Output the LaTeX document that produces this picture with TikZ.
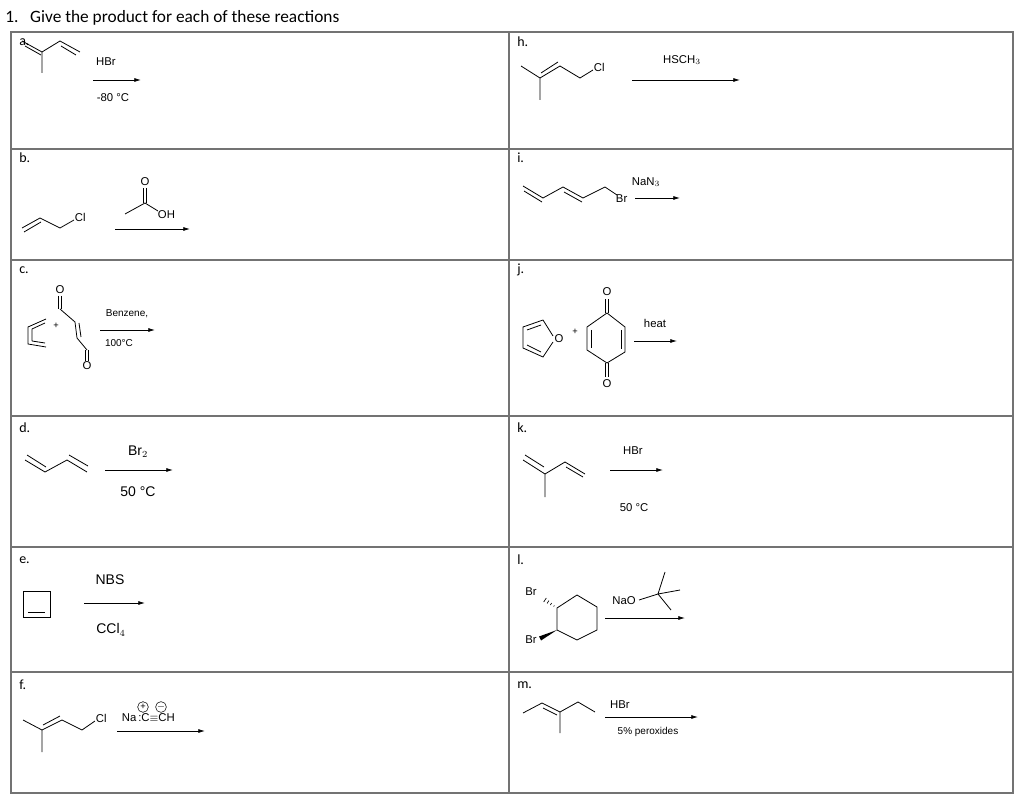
\documentclass[tikz,border=0pt]{standalone}
\usepackage{fontspec}
\setmainfont{Liberation Sans}
\newfontfamily\calfont{Carlito}
\usetikzlibrary{arrows.meta,calc}
\begin{document}
\begin{tikzpicture}[x=0.75pt,y=-0.75pt,
  bond/.style={line width=0.6pt},
  grid/.style={draw=black!55,line width=0.9pt},
  rxn/.style={-{Latex[length=5pt,width=3pt]},line width=0.6pt},
  lab/.style={font=\calfont\fontsize{10.5}{12}\selectfont,anchor=west,inner sep=0},
  rg/.style={font=\fontsize{8.5}{10}\selectfont,inner sep=0},
  rgb/.style={font=\fontsize{10.5}{12}\selectfont,inner sep=0},
  atm/.style={font=\fontsize{8.5}{10}\selectfont,inner sep=0.5pt}]
\useasboundingbox (0,0) rectangle (1024,798);
\fill[white] (0,0) rectangle (1024,798);
\node[font=\calfont\fontsize{13}{15}\selectfont,anchor=west,inner sep=0] (title) at (5,18) {1.\ \ \ Give the product for each of these reactions};
\draw[grid] (11,32) rectangle (1013,793);
\draw[grid] (509,32) -- (509,793);
\foreach \y in {149,260,416,547,672} \draw[grid] (11,\y) -- (1013,\y);
\foreach \l/\y in {a./42,b./158,c./270,d./428,e./560,f./685} \node[lab] at (19,\y) {\l};
\foreach \l/\y in {h./42,i./158,j./270,k./428,l./560,m./685} \node[lab] at (517,\y) {\l};

% a
\draw[bond] (22,41)--(42,52)--(42,73) (42,52)--(60,41)--(80,52);
\draw[bond] (25,46)--(41,55) (61,46)--(76,55);
\coordinate (a1) at (93,80); \coordinate (a2) at (141,80);
\draw[rxn] (a1)--(a2);
\node[rg] (aHBr) at (106,62) {HBr};
\node[rg] (aT) at (113,98) {-80 °C};

% b
\draw[bond] (22,228)--(40,218)--(60,228)--(74,220);
\draw[bond] (24,232)--(41,222);
\node[atm,anchor=west] (bCl) at (74,217) {Cl};
\draw[bond] (125,214)--(145,203)--(158,211);
\draw[bond] (143.5,203)--(143.5,188) (146.5,203)--(146.5,188);
\node[atm] (bO) at (145,182) {O};
\node[atm,anchor=west] (bOH) at (157,215) {OH};
\coordinate (b1) at (115,229); \coordinate (b2) at (190,229);
\draw[rxn] (b1)--(b2);

% c
\draw[bond] (46,319)--(28,327)--(28,344)--(46,347);
\draw[bond] (45,323)--(32,329) (32,329)--(32,341) (32,341)--(45,343);
\node[atm,font=\fontsize{7}{8}\selectfont] (cplus) at (56,326) {+};
\node[atm] (cO1) at (60,290) {O};
\draw[bond] (58.5,296)--(58.5,309) (61.5,296)--(61.5,309);
\draw[bond] (60,309)--(75,322)--(77,338)--(87,350);
\draw[bond] (79,323)--(81,337);
\draw[bond] (85.5,350)--(85.5,361) (88.5,350)--(88.5,361);
\node[atm] (cO2) at (87,366) {O};
\node[atm,font=\fontsize{7.5}{9}\selectfont] (cBz) at (127,314) {Benzene,};
\node[atm,font=\fontsize{7.5}{9}\selectfont] (cT) at (119,343) {100°C};
\coordinate (c1) at (100,330); \coordinate (c2) at (155,330);
\draw[rxn] (c1)--(c2);

% d
\draw[bond] (25,460)--(45,472)--(67,460)--(87,472);
\draw[bond] (27,455)--(46,467) (69,455)--(88,466);
\node[rgb] (dBr) at (138,452) {Br$_2$};
\node[rgb] (dT) at (138,492) {50 °C};
\coordinate (d1) at (105,470); \coordinate (d2) at (173,470);
\draw[rxn] (d1)--(d2);

% e
\draw[bond] (23,591) rectangle (50,617);
\draw[bond] (28,612)--(45,612);
\node[rgb] (eN) at (110,580) {NBS};
\node[rgb] (eC) at (111,630) {CCl$_4$};
\coordinate (e1) at (84,603); \coordinate (e2) at (145,603);
\draw[rxn] (e1)--(e2);

% f
\draw[bond] (23,720)--(42,730)--(42,752) (42,730)--(62,720)--(82,730)--(95,721);
\draw[bond] (43,725)--(60,716);
\node[atm,anchor=west] (fCl) at (95,718) {Cl};
\node[atm,anchor=west] (fNa) at (121,718) {Na\,:C$\equiv$CH};
\node[circle,draw,inner sep=0,minimum size=8pt,font=\fontsize{7}{7}\selectfont] (fp) at (143,707) {+};
\node[circle,draw,inner sep=0,minimum size=8pt,font=\fontsize{7}{7}\selectfont] (fm) at (161,707) {$-$};
\coordinate (f1) at (117,731); \coordinate (f2) at (205,731);
\draw[rxn] (f1)--(f2);

% h
\draw[bond] (521,66)--(540,78)--(540,100) (540,78)--(560,66)--(580,78)--(593,70);
\draw[bond] (541,73)--(558,62);
\node[atm,anchor=west] (hCl) at (593,67) {Cl};
\node[rg] (hR) at (682,60) {HSCH$_3$};
\coordinate (h1) at (632,80); \coordinate (h2) at (740,80);
\draw[rxn] (h1)--(h2);

% i
\draw[bond] (523,186)--(543,198)--(563,187)--(583,198)--(605,187)--(617,195);
\draw[bond] (524,191)--(542,202) (564,192)--(582,202);
\node[atm,anchor=west] (iBr) at (615,199) {Br};
\node[rg] (iR) at (646,182) {NaN$_3$};
\coordinate (i1) at (635,198); \coordinate (i2) at (680,198);
\draw[rxn] (i1)--(i2);

% j
\draw[bond] (553,336)--(543,320)--(523,327)--(523,348)--(543,357)--(553,342);
\draw[bond] (541,325)--(527,330) (527,345)--(541,352);
\node[atm] (jO) at (559,339) {O};
\node[atm,font=\fontsize{7}{8}\selectfont] (jplus) at (575,332) {+};
\draw[bond] (607,313)--(625,327)--(625,352)--(607,363)--(587,350)--(587,327)--cycle;
\draw[bond] (621,330)--(621,349) (591,330)--(591,348);
\draw[bond] (605.5,313)--(605.5,299) (608.5,313)--(608.5,299);
\draw[bond] (605.5,363)--(605.5,377) (608.5,363)--(608.5,377);
\node[atm] (jO1) at (607,292) {O};
\node[atm] (jO2) at (607,384) {O};
\node[rg] (jR) at (655,323) {heat};
\coordinate (j1) at (634,341); \coordinate (j2) at (677,341);
\draw[rxn] (j1)--(j2);

% k
\draw[bond] (523,460)--(545,474)--(545,497) (545,474)--(565,462)--(585,474);
\draw[bond] (525,455)--(544,467) (566,467)--(583,477);
\node[rg] (kR) at (633,451) {HBr};
\node[rg] (kT) at (634,508) {50 °C};
\coordinate (k1) at (610,470); \coordinate (k2) at (663,470);
\draw[rxn] (k1)--(k2);

% l
\draw[bond] (557,608)--(577,595)--(597,607)--(597,630)--(577,640)--(557,630)--cycle;
\foreach \t in {0.2,0.4,0.6,0.8} \draw[line width=0.5pt]
  ($(557,608)!\t!(542,598)+(1.6*\t,-2.5*\t)$) -- ($(557,608)!\t!(542,598)+(-1.6*\t,2.5*\t)$);
\node[atm] (lBr1) at (531,592) {Br};
\node[atm] (lBr2) at (531,640) {Br};
\fill (557,630)--(539,636.5)--(541,640.5)--cycle;
\node[rg] (lNa) at (624,601) {NaO};
\draw[bond] (639,600)--(658,594) (658,594)--(665,572) (658,594)--(680,590) (658,594)--(671,610);
\coordinate (l1) at (605,618); \coordinate (l2) at (685,618);
\draw[rxn] (l1)--(l2);

% m
\draw[bond] (523,713)--(542,703)--(560,712)--(560,733) (560,712)--(578,702)--(595,712);
\draw[bond] (543,708)--(557,715);
\node[rg] (mR) at (620,705) {HBr};
\node[rg,font=\fontsize{7.5}{9}\selectfont] (mT) at (648,732) {5\% peroxides};
\coordinate (m1) at (605,717); \coordinate (m2) at (698,717);
\draw[rxn] (m1)--(m2);
\end{tikzpicture}
\end{document}
